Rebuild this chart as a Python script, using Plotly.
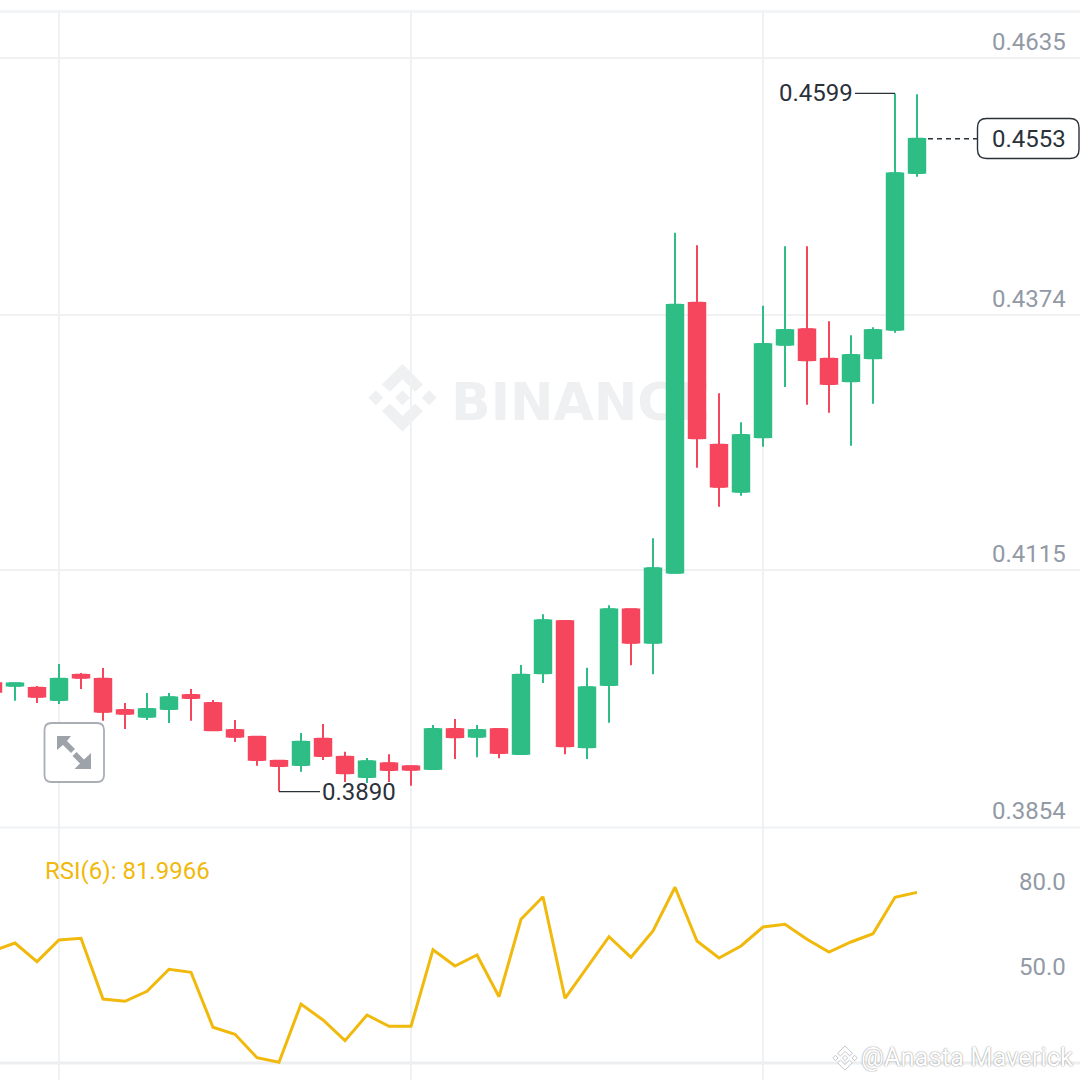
import plotly.graph_objects as go

# candles, oldest first
opens = [0.40002, 0.39975, 0.39955, 0.39830, 0.40087, 0.40046, 0.39728, 0.39660, 0.39738, 0.39881, 0.39799,
         0.39525, 0.39457, 0.39213, 0.39170, 0.39437, 0.39254, 0.39048, 0.39187, 0.39157, 0.39129, 0.39535,
         0.39457, 0.39535, 0.39281, 0.40101, 0.40632, 0.39349, 0.39982, 0.40751, 0.40412, 0.41123, 0.43865,
         0.42423, 0.41945, 0.42498, 0.43438, 0.43595, 0.43296, 0.43067, 0.43300, 0.43591, 0.45182]
highs = [0.40013, 0.40002, 0.39972, 0.40195, 0.40104, 0.40155, 0.39799, 0.39901, 0.39901, 0.39942, 0.39830,
         0.39627, 0.39467, 0.39213, 0.39495, 0.39586, 0.39305, 0.39241, 0.39278, 0.39158, 0.39576, 0.39637,
         0.39576, 0.39535, 0.40185, 0.40700, 0.40632, 0.40158, 0.40792, 0.40751, 0.41472, 0.44576, 0.44448,
         0.42945, 0.42650, 0.43834, 0.44438, 0.44438, 0.43676, 0.43534, 0.43615, 0.45990, 0.45981]
lows = [0.39891, 0.39823, 0.39799, 0.39789, 0.39942, 0.39620, 0.39535, 0.39627, 0.39596, 0.39620, 0.39522,
        0.39403, 0.39163, 0.38900, 0.39102, 0.39220, 0.38997, 0.38987, 0.38997, 0.38959, 0.39119, 0.39231,
        0.39248, 0.39238, 0.39281, 0.40002, 0.39278, 0.39231, 0.39599, 0.40182, 0.40091, 0.41123, 0.42189,
        0.41793, 0.41905, 0.42402, 0.43009, 0.42829, 0.42748, 0.42413, 0.42839, 0.43560, 0.45145]
closes = [0.39911, 0.39999, 0.39863, 0.40046, 0.40056, 0.39711, 0.39691, 0.39738, 0.39857, 0.39850, 0.39522,
          0.39457, 0.39220, 0.39160, 0.39406, 0.39261, 0.39085, 0.39207, 0.39119, 0.39122, 0.39535, 0.39451,
          0.39525, 0.39292, 0.40087, 0.40639, 0.39360, 0.39959, 0.40751, 0.40412, 0.41167, 0.43845, 0.42488,
          0.41996, 0.42521, 0.43445, 0.43588, 0.43280, 0.43039, 0.43334, 0.43588, 0.45179, 0.45530]
rsi = [61.29, 64.12, 57.52, 65.17, 65.77, 44.35, 43.54, 47.07, 54.83, 53.77, 34.36,
       31.89, 23.63, 22.01, 42.58, 36.94, 29.63, 38.70, 34.71, 34.71, 61.75, 56.00,
       59.88, 45.16, 72.48, 80.46, 44.60, 55.54, 66.34, 59.07, 68.35, 83.78, 64.82,
       58.82, 63.06, 69.76, 70.72, 65.42, 60.94, 64.47, 67.40, 80.25, 81.9966]
bars = list(range(len(closes)))

price_ticks = [0.3854, 0.4115, 0.4374, 0.4635]
rsi_ticks = [50.0, 80.0]
time_ticks = [3, 19, 35]

GREEN = "#2ebd85"
RED = "#f6465d"
YELLOW = "#f0b90b"
GRID = "#eff1f3"
MUTED = "#929aa5"
DARK = "#2b3139"
FONT = "Roboto"


def px(x):
    return x / 1080


def py(y):
    return 1 - y / 1080


def poly(points):
    return "M" + " L".join(f"{px(x):.5f},{py(y):.5f}" for x, y in points) + " Z"


def logo(cx, cy, s):
    # binance mark, s=1 is the big watermark one
    top = [(0, -33.7), (20.5, -13.2), (12.5, -6), (0, -18.4), (-12.5, -6), (-20.5, -13.2)]
    bottom = [(x, -y) for x, y in top]
    middle = [(0, -7.5), (7.5, 0), (0, 7.5), (-7.5, 0)]
    left = [(x - 26.7, y) for x, y in middle]
    right = [(x + 26.7, y) for x, y in middle]
    return [poly([(cx + x * s, cy + y * s) for x, y in part]) for part in (top, bottom, middle, left, right)]


fig = go.Figure()
# candlestick bodies can't be widened, so wider bars sit under them
body_colors = [GREEN if c >= o else RED for o, c in zip(opens, closes)]
fig.add_trace(go.Bar(
    x=bars, y=[abs(c - o) for o, c in zip(opens, closes)], base=[min(o, c) for o, c in zip(opens, closes)],
    width=0.77, marker=dict(color=body_colors, line=dict(color=body_colors, width=1.5)),
    xaxis="x", yaxis="y", showlegend=False,
))
fig.add_trace(go.Candlestick(
    x=bars, open=opens, high=highs, low=lows, close=closes,
    increasing=dict(line=dict(color=GREEN, width=2), fillcolor=GREEN),
    decreasing=dict(line=dict(color=RED, width=2), fillcolor=RED),
    whiskerwidth=0, xaxis="x", yaxis="y", showlegend=False,
))
fig.add_trace(go.Scatter(
    x=bars, y=rsi, mode="lines", line=dict(color=YELLOW, width=3),
    xaxis="x2", yaxis="y2", showlegend=False,
))

shapes = []
# pane lines
for y, color, w in [(11.5, "#f3f4f5", 3), (827.5, GRID, 2), (1063, "#eceef0", 3)]:
    shapes.append(dict(type="line", xref="paper", yref="paper", x0=0, x1=1, y0=py(y), y1=py(y),
                       line=dict(color=color, width=w), layer="below"))
# watermark behind the candles
for path in logo(402.5, 397.7, 1):
    shapes.append(dict(type="path", xref="paper", yref="paper", path=path, fillcolor="#eef0f1",
                       line=dict(width=0), layer="below"))
shapes.append(dict(type="rect", xref="paper", yref="paper", x0=px(445), x1=px(760), y0=py(378), y1=py(418),
                   line=dict(width=0), fillcolor="rgba(0,0,0,0)", layer="below",
                   label=dict(text="<b>BINANCE</b>", textposition="middle left",
                              font=dict(family="DejaVu Sans", size=52, color="#eef0f1"))))
# small logo of the author watermark
for path in logo(845, 1058, 0.36):
    shapes.append(dict(type="path", xref="paper", yref="paper", path=path, fillcolor="#ffffff",
                       line=dict(color="#c4c7cb", width=1)))
# last price pill
last_x = bars[-1] + 0.5
pill_x = (977 + 7) / 22
shapes.append(dict(type="line", xref="x", yref="y", x0=last_x, x1=pill_x, y0=closes[-1], y1=closes[-1],
                   line=dict(color=DARK, width=1.4, dash="5px,4px")))
l, r, t, b, c = px(977.5), px(1079), py(118.5), py(158.5), 9
cx, cy = px(c), c / 1080
shapes.append(dict(type="path", xref="paper", yref="paper", fillcolor="#ffffff",
                   line=dict(color=DARK, width=1.4),
                   path=f"M{l+cx},{t} L{r-cx},{t} Q{r},{t} {r},{t-cy} L{r},{b+cy} Q{r},{b} {r-cx},{b} "
                        f"L{l+cx},{b} Q{l},{b} {l},{b+cy} L{l},{t-cy} Q{l},{t} {l+cx},{t} Z"))
# expand button
l, r, t, b, c = px(44.5), px(104), py(723), py(782), 7
cx, cy = px(c), c / 1080
shapes.append(dict(type="path", xref="paper", yref="paper", fillcolor="#ffffff",
                   line=dict(color="#a9aeb5", width=1.8),
                   path=f"M{l+cx},{t} L{r-cx},{t} Q{r},{t} {r},{t-cy} L{r},{b+cy} Q{r},{b} {r-cx},{b} "
                        f"L{l+cx},{b} Q{l},{b} {l},{b+cy} L{l},{t-cy} Q{l},{t} {l+cx},{t} Z"))
for pts in [[(57, 736), (71, 736), (67, 741), (75, 749), (71, 753), (63, 745), (57, 750)],
            [(91, 769), (74.5, 769), (80, 763.5), (72.5, 756), (76.5, 752), (84, 759.5), (91, 753)]]:
    shapes.append(dict(type="path", xref="paper", yref="paper", path=poly(pts), fillcolor="#9ea3aa",
                       line=dict(width=0)))

annotations = []
for tick in price_ticks:
    annotations.append(dict(text=f"{tick:.4f}", xref="paper", x=px(1068), xanchor="right", yref="y", y=tick,
                            yanchor="bottom", yshift=0, showarrow=False,
                            font=dict(family=FONT, size=24, color=MUTED)))
for tick in rsi_ticks:
    annotations.append(dict(text=f"{tick:.1f}", xref="paper", x=px(1068), xanchor="right", yref="y2", y=tick,
                            yanchor="bottom", yshift=0, showarrow=False,
                            font=dict(family=FONT, size=24, color=MUTED)))
low_i = lows.index(min(lows))
high_i = highs.index(max(highs))
annotations.append(dict(text=f"{lows[low_i]:.4f}", x=low_i, y=lows[low_i], xref="x", yref="y", showarrow=True,
                        arrowhead=0, arrowwidth=1.3, arrowcolor=DARK, ax=41, ay=0, xanchor="left",
                        font=dict(family=FONT, size=24, color=DARK), standoff=0))
annotations.append(dict(text=f"{highs[high_i]:.4f}", x=high_i, y=highs[high_i], xref="x", yref="y", showarrow=True,
                        arrowhead=0, arrowwidth=1.3, arrowcolor=DARK, ax=-40, ay=0, xanchor="right",
                        font=dict(family=FONT, size=24, color=DARK), standoff=0))
annotations.append(dict(text=f"{closes[-1]:.4f}", xref="paper", x=px(1028.5), xanchor="center", yref="y",
                        y=closes[-1], showarrow=False, font=dict(family=FONT, size=24, color=DARK)))
annotations.append(dict(text=f"RSI(6): {rsi[-1]:.4f}", xref="paper", x=px(43), xanchor="left", yref="paper",
                        y=py(871), yanchor="middle", showarrow=False,
                        font=dict(family=FONT, size=24, color=YELLOW)))
annotations.append(dict(text="@Anasta Maverick", xref="paper", x=px(1075), xanchor="right", yref="paper",
                        y=py(1057), yanchor="middle", showarrow=False,
                        font=dict(family=FONT, size=25.5, color="#ffffff", shadow="0 0 1.5px #666666")))

# axes are set so one bar is 22px and the last sits at x=917
x_range = [7 / 22, 1087 / 22]
fig.update_layout(
    width=1080, height=1080,
    margin=dict(l=0, r=0, t=0, b=0),
    paper_bgcolor="#ffffff", plot_bgcolor="#ffffff",
    hovermode=False,
    xaxis=dict(domain=[0, 1], range=x_range, anchor="y", rangeslider=dict(visible=False), tickmode="array",
               tickvals=time_ticks, showticklabels=False, ticks="", showgrid=True, gridcolor=GRID, gridwidth=1.5,
               zeroline=False),
    xaxis2=dict(domain=[0, 1], range=x_range, anchor="y2", tickmode="array", tickvals=time_ticks,
                showticklabels=False, ticks="", showgrid=True, gridcolor=GRID, gridwidth=1.5, zeroline=False),
    yaxis=dict(domain=[py(827), py(12)], range=[0.3854, 0.46817], tickmode="array", tickvals=price_ticks,
               showticklabels=False, ticks="", showgrid=True, gridcolor=GRID, gridwidth=1.5, zeroline=False),
    yaxis2=dict(domain=[0, py(827)], range=[15.76, 105.06], showticklabels=False, ticks="", showgrid=False,
                zeroline=False),
    shapes=shapes, annotations=annotations,
)

fig.write_html("out.html", config={"displayModeBar": False},
               post_script="document.body.style.margin='0';")
